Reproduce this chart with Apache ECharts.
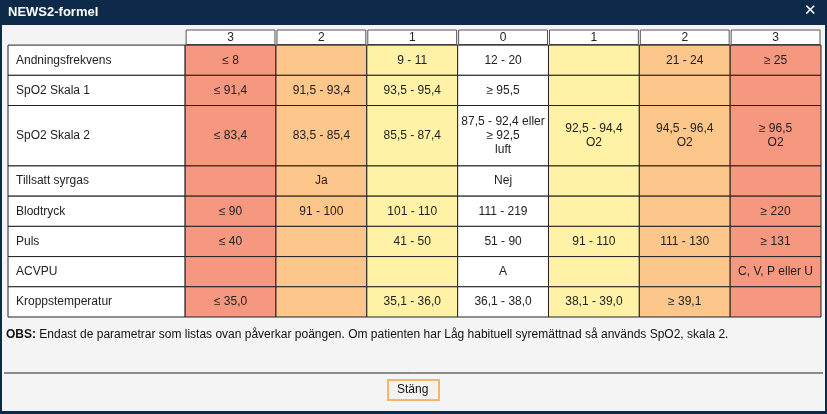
<!DOCTYPE html>
<html>
<head>
<meta charset="utf-8">
<script src="https://cdn.jsdelivr.net/npm/echarts@6/dist/echarts.min.js"></script>
<style>
html, body { margin: 0; padding: 0; background: #0d2a4a; }
#chart { width: 827px; height: 414px; }
</style>
</head>
<body>
<div id="chart"></div>
<script>
const scores = ['3', '2', '1', '0', '1', '2', '3'];
const parameters = ['Andningsfrekvens', 'SpO2 Skala 1', 'SpO2 Skala 2', 'Tillsatt syrgas',
    'Blodtryck', 'Puls', 'ACVPU', 'Kroppstemperatur'];
const rowUnits = [1, 1, 2, 1, 1, 1, 1, 1];
const cellTexts = [
    ['≤ 8', '', '9 - 11', '12 - 20', '', '21 - 24', '≥ 25'],
    ['≤ 91,4', '91,5 - 93,4', '93,5 - 95,4', '≥ 95,5', '', '', ''],
    ['≤ 83,4', '83,5 - 85,4', '85,5 - 87,4', '87,5 - 92,4 eller\n≥ 92,5\nluft', '92,5 - 94,4\nO2', '94,5 - 96,4\nO2', '≥ 96,5\nO2'],
    ['', 'Ja', '', 'Nej', '', '', ''],
    ['≤ 90', '91 - 100', '101 - 110', '111 - 219', '', '', '≥ 220'],
    ['≤ 40', '', '41 - 50', '51 - 90', '91 - 110', '111 - 130', '≥ 131'],
    ['', '', '', 'A', '', '', 'C, V, P eller U'],
    ['≤ 35,0', '', '35,1 - 36,0', '36,1 - 38,0', '38,1 - 39,0', '≥ 39,1', '']
];
const scoreColors = { '3': '#f6977f', '2': '#fdc68a', '1': '#fff1a6', '0': '#ffffff' };

// build cells: [x0, x1, y0, y1, text, fill, kind]
const cells = [];
for (let c = 0; c < scores.length; c++) {
    cells.push([c, c + 1, -0.5, -0.02, scores[c], '#ffffff', 'head']);
}
let y = 0;
parameters.forEach((p, r) => {
    const h = rowUnits[r];
    cells.push([-1.95, 0, y, y + h, p, '#ffffff', 'label']);
    cellTexts[r].forEach((t, c) => {
        cells.push([c, c + 1, y, y + h, t, scoreColors[scores[c]], 'cell']);
    });
    y += h;
});

const FONT = '12px "Liberation Sans", Arial';
const chart = echarts.init(document.getElementById('chart'));
const option = {
    backgroundColor: '#0d2a4a',
    animation: false,
    grid: { left: 8, right: 6, top: 30, bottom: 97 },
    xAxis: { type: 'value', min: -1.95, max: 7, show: false },
    yAxis: { type: 'value', min: -0.5, max: 9, inverse: true, show: false },
    graphic: [
        { type: 'rect', z: -10, shape: { x: 2, y: 25, width: 823, height: 386 }, style: { fill: '#f4f4f4' } },
        { type: 'rect', z: -9, shape: { x: 8, y: 45, width: 813, height: 272 }, style: { fill: '#ffffff' } },
        { type: 'text', x: 8, y: 6, style: { text: 'NEWS2-formel', fill: '#ffffff', font: 'bold 13px "Liberation Sans", Arial' } },
        { type: 'text', x: 804, y: 4, style: { text: '✕', fill: '#ffffff', font: '15px "DejaVu Sans"' } },
        { type: 'text', z: 10, x: 6, y: 329, style: { text: '{b|OBS:} Endast de parametrar som listas ovan påverkar poängen. Om patienten har Låg habituell syremättnad så används SpO2, skala 2.', font: FONT, fill: '#111', rich: { b: { font: 'bold 12px "Liberation Sans", Arial', fill: '#111' } } } },
        { type: 'line', shape: { x1: 4, y1: 373, x2: 823, y2: 373 }, style: { stroke: '#222', lineWidth: 1 } },
        { type: 'rect', shape: { x: 388, y: 380, width: 51, height: 20 }, style: { fill: '#f2f2f2', stroke: '#f5b66a', lineWidth: 2 } },
        { type: 'text', x: 397, y: 384, style: { text: 'Stäng', fill: '#111', font: FONT } }
    ],
    series: [{
        type: 'custom',
        data: cells,
        encode: { x: [0, 1], y: [2, 3] },
        renderItem: function (params, api) {
            const cell = cells[params.dataIndex];
            const p0 = api.coord([cell[0], cell[2]]);
            const p1 = api.coord([cell[1], cell[3]]);
            const kind = cell[6];
            const inset = kind === 'head' ? 1 : 0;
            return {
                type: 'group',
                children: [
                    {
                        type: 'rect',
                        shape: { x: p0[0] + inset, y: p0[1], width: p1[0] - p0[0] - inset * 2, height: p1[1] - p0[1] },
                        style: { fill: cell[5], stroke: kind === 'head' ? '#555' : '#222', lineWidth: 1 }
                    },
                    {
                        type: 'text',
                        x: kind === 'label' ? p0[0] + 8 : (p0[0] + p1[0]) / 2,
                        y: (p0[1] + p1[1]) / 2,
                        style: {
                            text: cell[4],
                            fill: '#222',
                            font: FONT,
                            align: kind === 'label' ? 'left' : 'center',
                            verticalAlign: 'middle',
                            lineHeight: 14
                        }
                    }
                ]
            };
        }
    }]
};
chart.setOption(option);
window.addEventListener('resize', function () { chart.resize(); });
</script>
</body>
</html>
